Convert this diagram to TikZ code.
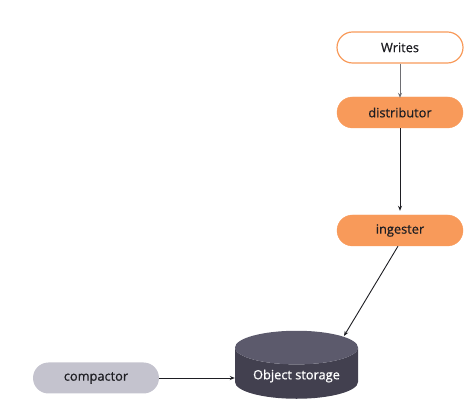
\documentclass[tikz,border=0pt]{standalone}
\usepackage{fontspec}
\setmainfont{Open Sans}[FakeBold=0.7]
\usepackage{tikz}
\usetikzlibrary{arrows.meta,shapes.geometric,positioning}
\definecolor{lkorange}{RGB}{248,154,90}
\definecolor{lkgray}{RGB}{196,195,206}
\definecolor{lkbody}{RGB}{66,64,79}
\definecolor{lktop}{RGB}{92,90,108}
\definecolor{lktext}{RGB}{30,30,35}
\definecolor{lkarrow}{RGB}{110,110,115}
\tikzset{arrow/.style={-{Stealth[length=5pt,width=4pt]}, line width=0.9pt, color=lktext}}

\begin{document}
\begin{tikzpicture}[
    x=1pt, y=-1pt,
    every node/.style={font=\fontsize{12.8}{14}\selectfont, text=lktext},
    pill/.style={rectangle, rounded corners=15.5pt, minimum width=126pt, minimum height=31pt, align=center, inner sep=0pt},
    stage/.style={pill, fill=lkorange, draw=lkorange},
    store/.style={cylinder, shape border rotate=90, aspect=0.36, minimum width=123pt, minimum height=68pt, cylinder uses custom fill, cylinder body fill=lkbody, cylinder end fill=lktop, draw=none, text=white}
]
\useasboundingbox (0,0) rectangle (474,419);

% Write path
\node[pill, draw=lkorange, line width=1.2pt, fill=white] (writes) at (400,47.5) {Writes};
\node[stage] (distributor) at (400,112.5) {distributor};
\node[stage] (ingester) at (400,230.5) {ingester};

% Storage
\node[store] (storage) at (296.5,376) {Object storage};
\node[pill, fill=lkgray] (compactor) at (96,378) {compactor};
\coordinate (storagein) at (344,336);

% Arrows
\draw[arrow, lkarrow, line width=0.7pt] (writes) -- ([yshift=-1pt]distributor.north);
\draw[arrow] (distributor) -- ([yshift=4pt]ingester.north);
\draw[arrow] ([xshift=-2pt]ingester.south) -- (storagein);
\draw[arrow] (compactor.east) -- (compactor.east -| storage.west);

\end{tikzpicture}
\end{document}
